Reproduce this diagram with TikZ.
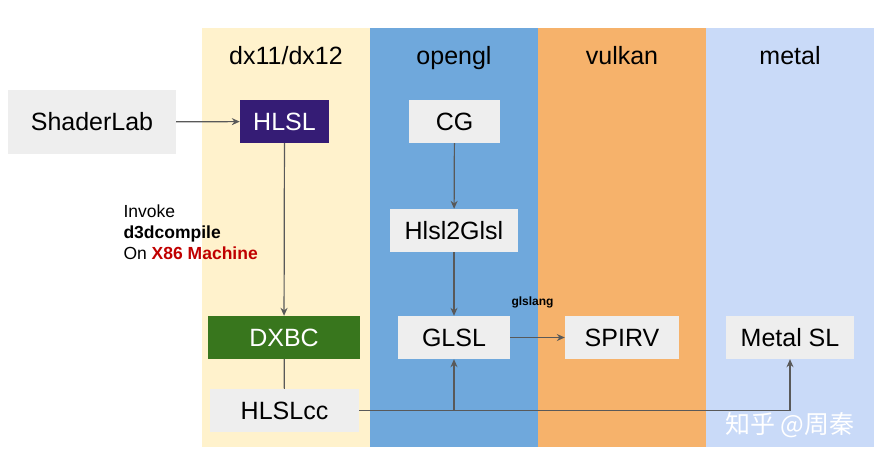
\documentclass[tikz,border=0pt]{standalone}
\usepackage{fontspec}
\setmainfont{Liberation Sans}
\newfontfamily\cjk{Noto Sans CJK SC}
\usetikzlibrary{arrows.meta}
\definecolor{colY}{HTML}{FFF2CC}\definecolor{colB}{HTML}{6FA8DC}
\definecolor{colO}{HTML}{F6B26B}\definecolor{colM}{HTML}{C9DAF8}
\definecolor{gb}{HTML}{EEEEEE}\definecolor{pu}{HTML}{351C75}
\definecolor{gr}{HTML}{38761D}\definecolor{ln}{HTML}{595959}
\definecolor{rd}{HTML}{C00000}
\begin{document}
\begin{tikzpicture}[x=1pt,y=-1pt,
 box/.style={fill=gb,inner sep=0pt,font=\fontsize{25}{28}\selectfont},
 hd/.style={anchor=base,font=\fontsize{25}{28}\selectfont},
 ar/.style={draw=ln,line width=1.2pt,-{Stealth[length=8pt,width=7pt]}},
 pl/.style={draw=ln,line width=1.2pt}]
\useasboundingbox (0,0) rectangle (885,463);
\fill[colY] (202,28) rectangle (370,447);
\fill[colB] (370,28) rectangle (538,447);
\fill[colO] (538,28) rectangle (706,447);
\fill[colM] (706,28) rectangle (874,447);
\node[hd] (h1) at (286,64) {dx11/dx12};
\node[hd] (h2) at (454,64) {opengl};
\node[hd] (h3) at (622,64) {vulkan};
\node[hd] (h4) at (790,64) {metal};
\node[box,minimum width=168pt,minimum height=64pt] (sl) at (92,122) {ShaderLab};
\node[box,fill=pu,text=white,minimum width=89pt,minimum height=43pt] (hlsl) at (284.5,121.5) {HLSL};
\node[box,minimum width=91pt,minimum height=43pt] (cg) at (454.5,121.5) {CG};
\node[box,minimum width=128pt,minimum height=43pt] (h2g) at (454,230.5) {Hlsl2Glsl};
\node[box,fill=gr,text=white,minimum width=152pt,minimum height=43pt] (dxbc) at (284,337.5) {DXBC};
\node[box,minimum width=112pt,minimum height=43pt] (glsl) at (454,337.5) {GLSL};
\node[box,minimum width=114pt,minimum height=43pt] (spirv) at (622,337.5) {SPIRV};
\node[box,minimum width=128pt,minimum height=43pt] (msl) at (790,337.5) {Metal SL};
\node[box,minimum width=149pt,minimum height=43pt] (hcc) at (284.5,410.5) {HLSLcc};
\draw[ar] (sl) -- (hlsl);
\draw[ar] (hlsl) -- (dxbc);
\draw[ar] (cg) -- (h2g);
\draw[ar] (h2g) -- (glsl);
\draw[ar] (glsl) -- node[above=26pt,xshift=-5pt,font=\bfseries\fontsize{12}{13}\selectfont,text=black]{glslang} (spirv);
\draw[pl] (dxbc) -- (hcc);
\draw[ar] (hcc.east) -| (glsl.south);
\draw[ar] (hcc.east) -| (msl.south);
\node[anchor=west,align=left,font=\fontsize{17.5}{21}\selectfont] (txt) at (120,232)
 {Invoke\\\textbf{d3dcompile}\\On \textcolor{rd}{\textbf{X86 Machine}}};
\node[text=white,font=\cjk\fontsize{25}{28}\selectfont] (wm) at (790,425) {知乎 @周秦};
\end{tikzpicture}
\end{document}
